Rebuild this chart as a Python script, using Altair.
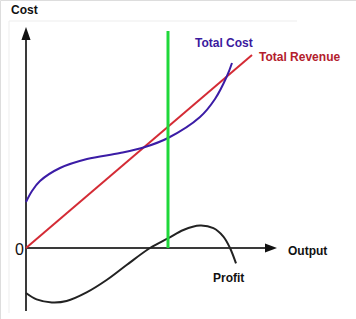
import altair as alt
import pandas as pd

# ---- data ----
tc_output = [0, 0.3, 0.7, 1.7, 3.05, 4.7, 5.95, 7.1, 8.7, 9.45, 10.05, 10.3]
total_cost = [2.3, 2.85, 3.35, 4.0, 4.45, 4.75, 5.05, 5.5, 6.55, 7.45, 8.6, 9.25]

tr_output = [0, 11.3]
total_revenue = [0, 9.65]

pr_output = [0, 0.53, 1.29, 2.03, 3.03, 4.03, 5.03, 6.2, 7.12, 7.87, 8.7, 9.37, 9.87, 10.2, 10.5]
profit = [-2.25, -2.57, -2.72, -2.65, -2.22, -1.6, -0.85, 0, 0.49, 0.9, 1.12, 0.99, 0.57, 0, -0.77]

marker_output = 7.1
marker_top = 10.85

FONT = "Liberation Sans"
xs = alt.Scale(domain=[-1.3, 16.5], nice=False, zero=False)
ys = alt.Scale(domain=[-3.55, 12.4], nice=False, zero=False)

def X(f="x"):
    return alt.X(f"{f}:Q", scale=xs, axis=None)

def Y(f="y"):
    return alt.Y(f"{f}:Q", scale=ys, axis=None)

tc_df = pd.DataFrame({"x": tc_output, "y": total_cost})
tr_df = pd.DataFrame({"x": tr_output, "y": total_revenue})
pr_df = pd.DataFrame({"x": pr_output, "y": profit})

# faint frame
frame = alt.Chart(pd.DataFrame({"x": [-0.85, -0.85, 13.55], "y": [-3.25, 11.35, 11.35], "o": [0, 1, 2]})).mark_line(
    color="#ededed", strokeWidth=1
).encode(x=X(), y=Y(), order="o:Q")

# axes
axes_df = pd.DataFrame({"x": [0, 0], "x2": [0, 12.0], "y": [-3.15, 0], "y2": [10.9, 0]})
axes = alt.Chart(axes_df).mark_rule(color="#3a3a3a", strokeWidth=2).encode(
    x=X(), x2="x2:Q", y=Y(), y2="y2:Q"
)
up_arrow = alt.Chart(pd.DataFrame({"x": [0], "y": [10.725]})).mark_point(
    shape="M0,-1L0.7,1L-0.7,1Z", size=169, filled=True, color="#111111", opacity=1
).encode(x=X(), y=Y())
right_arrow = alt.Chart(pd.DataFrame({"x": [12.25], "y": [0]})).mark_point(
    shape="M1,0L-1,0.75L-1,-0.75Z", size=144, filled=True, color="#111111", opacity=1
).encode(x=X(), y=Y())

green = alt.Chart(pd.DataFrame({"x": [marker_output], "y": [0], "y2": [marker_top]})).mark_rule(
    color="#1fd83a", strokeWidth=3
).encode(x=X(), y=Y(), y2="y2:Q")

tc_line = alt.Chart(tc_df).mark_line(color="#3b1ca6", strokeWidth=2, interpolate="catmull-rom").encode(
    x=X(), y=Y()
)
tr_line = alt.Chart(tr_df).mark_line(color="#d42b35", strokeWidth=2).encode(x=X(), y=Y())
pr_line = alt.Chart(pr_df).mark_line(color="#222222", strokeWidth=2, interpolate="catmull-rom").encode(
    x=X(), y=Y()
)

labels_df = pd.DataFrame({
    "x": [-0.75, 8.45, 11.65, 13.1, 9.35],
    "y": [11.9, 10.25, 9.55, -0.125, -1.475],
    "t": ["Cost", "Total Cost", "Total Revenue", "Output", "Profit"],
    "c": ["#111111", "#3b1a9e", "#b3202c", "#111111", "#111111"],
})
labels = alt.Chart(labels_df).mark_text(
    font=FONT, fontSize=12, fontWeight="bold", align="left", baseline="middle"
).encode(x=X(), y=Y(), text="t:N", color=alt.Color("c:N", scale=None))

zero = alt.Chart(pd.DataFrame({"x": [-0.1], "y": [-0.1], "t": ["0"]})).mark_text(
    font=FONT, fontSize=16, align="right", baseline="middle", color="#111111"
).encode(x=X(), y=Y(), text="t:N")

chart = alt.layer(
    frame, axes, tr_line, tc_line, pr_line, green, up_arrow, right_arrow, labels, zero
).properties(
    width=356, height=319, autosize=alt.AutoSizeParams(type="none"), padding=0
).configure_view(stroke=None).configure(background="white")

chart.save("out.html", embed_options={"renderer": "svg", "actions": False})
